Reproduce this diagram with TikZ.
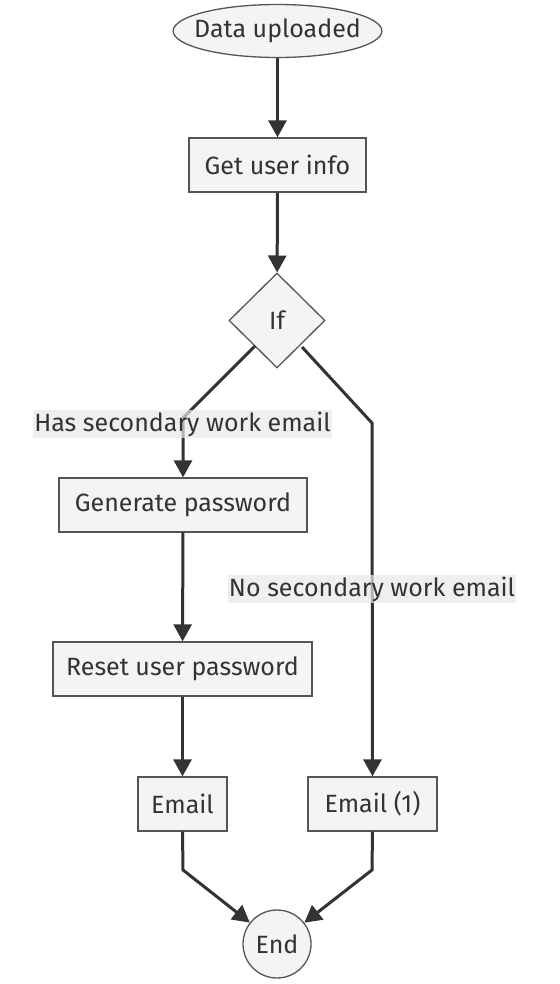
\documentclass[tikz,border=0pt]{standalone}
\usepackage{fontspec}
\setmainfont{Fira Sans}
\usetikzlibrary{shapes.geometric,arrows.meta}
\definecolor{nodefill}{HTML}{F4F4F4}
\definecolor{nodeline}{HTML}{555555}
\definecolor{edgecol}{HTML}{333333}
\definecolor{txt}{HTML}{333333}
\definecolor{lblbg}{HTML}{E8E8E8}
\tikzset{
  base/.style={draw=nodeline, fill=nodefill, line width=1.3pt, text=txt, inner sep=0pt, font=\fontsize{25}{29}\selectfont},
  box/.style={base, rectangle, minimum height=54pt},
  term/.style={base, ellipse, inner xsep=-9.5pt, minimum height=53pt},
  decide/.style={base, diamond, minimum width=96pt, minimum height=95pt},
  endc/.style={base, circle, minimum size=68pt},
  flow/.style={draw=edgecol, line width=3pt, -{Triangle[length=17pt,width=18pt]}},
  lbl/.style={fill=lblbg, fill opacity=0.7, text opacity=1, text=txt, inner xsep=1pt, inner ysep=2pt, font=\fontsize{25}{29}\selectfont}
}
\begin{document}
\begin{tikzpicture}[x=1pt,y=-1pt]
\useasboundingbox (0,0) rectangle (559,984);
\node[term] (start) at (277.5,31) {Data uploaded};
\node[box, minimum width=177pt] (info) at (277.5,165) {Get user info};
\node[decide] (if) at (277,320.5) {If};
\node[box, minimum width=248pt] (gen) at (183,505) {Generate password};
\node[box, minimum width=259pt] (reset) at (182.5,669) {Reset user password};
\node[box, minimum width=89pt] (email) at (182.5,804) {Email};
\node[box, minimum width=129pt] (email1) at (372.5,804) {Email (1)};
\node[endc] (end) at (277,944) {End};

\coordinate (lstart) at (255,346);
\coordinate (lbend) at (183,418);
\coordinate (rstart) at (302,347);
\coordinate (rbend) at (372,423);
\coordinate (ebend) at (183,870);
\coordinate (e1bend) at (372,870);

\draw[flow] (start) -- (info);
\draw[flow] (info) -- (if);
\draw[flow] (lstart) -- (lbend) -- (gen.north);
\draw[flow] (rstart) -- (rbend) -- (email1.north);
\draw[flow] (gen) -- (reset);
\draw[flow] (reset) -- (email);
\draw[flow] (email.south) -- (ebend) -- (end);
\draw[flow] (email1.south) -- (e1bend) -- (end);

\node[lbl] (l1) at (182.5,424) {Has secondary work email};
\node[lbl] (l2) at (372,589) {No secondary work email};
\end{tikzpicture}
\end{document}
